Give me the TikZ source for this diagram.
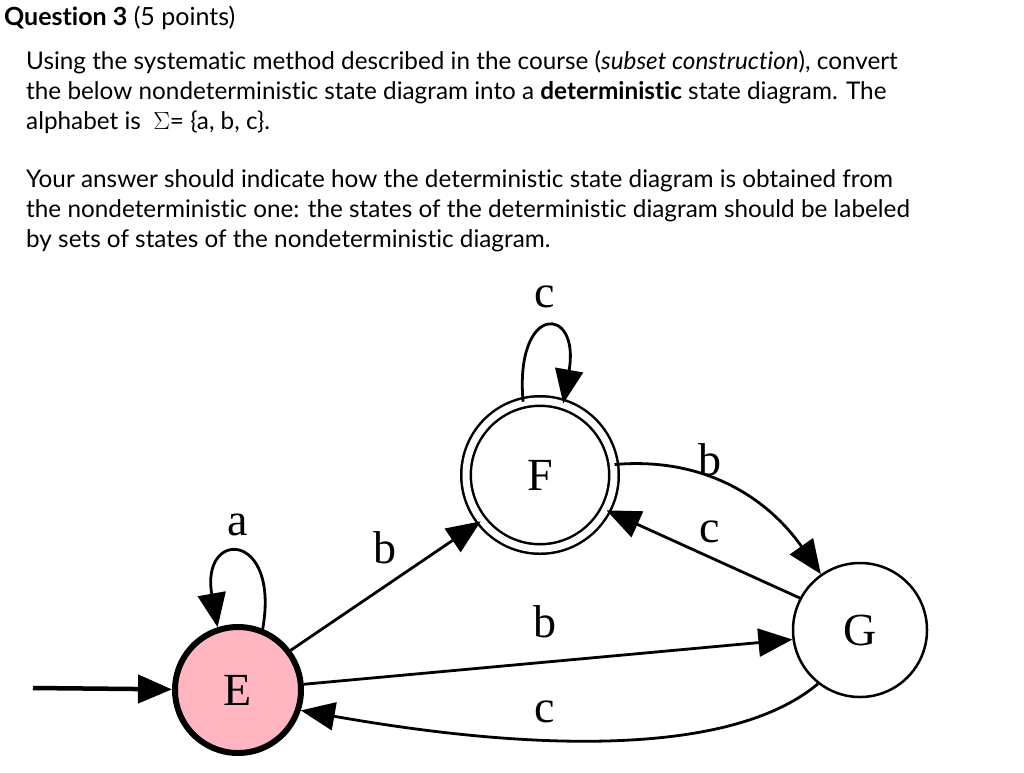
\documentclass[tikz,border=0pt]{standalone}
\usepackage{fontspec}
\setmainfont{Lato}[Ligatures={NoCommon}]
\newfontfamily\dfont{Liberation Serif}
\usetikzlibrary{arrows.meta}
\begin{document}
\begin{tikzpicture}[x=1pt,y=1pt,
  st/.style={circle,draw,line width=2.5pt,inner sep=0pt,font=\dfont\fontsize{46}{46}\selectfont},
  ed/.style={line width=2.8pt,-{Triangle[length=34pt,width=28pt]}},
  lb/.style={font=\dfont\fontsize{46}{46}\selectfont,inner sep=0pt},
  tx/.style={anchor=north west,inner sep=0pt,align=left,font=\fontsize{24.3}{30}\selectfont}]
\useasboundingbox (0,0) rectangle (1024,-772);
\node[anchor=west,inner sep=0pt,font=\fontsize{25}{28}\selectfont] (q) at (4,-18) {\textbf{Question 3} (5 points)};
\node[tx] (t1) at (26,-50) {Using the systematic method described in the course (\textit{subset construction}), convert\\the below nondeterministic state diagram into a \textbf{deterministic} state diagram. The\\alphabet is \ $\Sigma$= \{a, b, c\}.};
\node[tx] (t2) at (26,-169) {Your answer should indicate how the deterministic state diagram is obtained from\\the nondeterministic one: the states of the deterministic diagram should be labeled\\by sets of states of the nondeterministic diagram.};
\node[st,fill={rgb,255:red,255;green,182;blue,193},line width=6pt,minimum size=126pt] (E) at (238,-690) {E};
\node[st,double,double distance=7pt,minimum size=148pt] (F) at (540,-475) {F};
\node[st,minimum size=134pt] (G) at (860,-630) {G};
\coordinate (s) at (33,-688);
\draw[ed,line width=4.5pt] (s) -- (E);
\draw[ed] (E.68) .. controls +(80:100) and +(100:100) .. (E.108);
\draw[ed] (F.103) .. controls +(95:100) and +(80:100) .. (F.72);
\draw[ed] (E.37) -- (F.218);
\draw[ed] (F.8) to[out=5,in=125] (G.125);
\draw[ed] (G.152) -- (F.-28);
\draw[ed] (E.5) -- (G.188);
\draw[ed] (G.-128) to[out=-140,in=-10,looseness=0.7] (E.-18);
\node[lb] (la) at (238,-525) {a};
\node[lb] (lc1) at (545,-297) {c};
\node[lb] (lb1) at (385,-548) {b};
\node[lb] (lb2) at (710,-460) {b};
\node[lb] (lc2) at (710,-532) {c};
\node[lb] (lb3) at (545,-622) {b};
\node[lb] (lc3) at (545,-712) {c};
\end{tikzpicture}
\end{document}
